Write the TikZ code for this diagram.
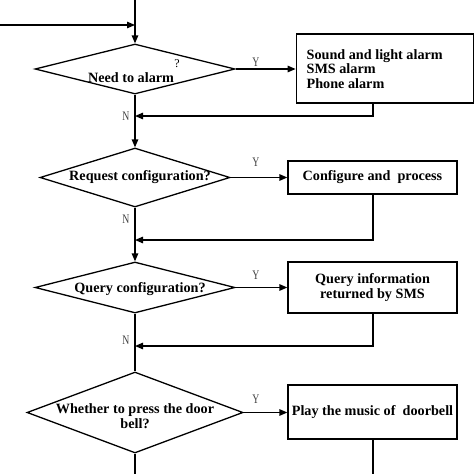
\documentclass[tikz,border=0pt]{standalone}
\usepackage{fontspec}
\setmainfont{Liberation Serif}
\usetikzlibrary{shapes.geometric,arrows.meta}
\begin{document}
\begin{tikzpicture}[x=1pt,y=-1pt,
  line width=1.3pt,
  arr/.style={-{Triangle[length=8pt,width=6.5pt]}},
  dia/.style={draw,diamond,aspect=1,inner sep=0pt},
  box/.style={draw,rectangle,inner sep=0pt},
  txt/.style={font=\fontsize{14.2}{14.5}\selectfont\bfseries,inner sep=0pt},
  yn/.style={font=\fontsize{13}{13}\selectfont,inner sep=0pt,xscale=0.75,text=black!75}]
\useasboundingbox (0,0) rectangle (474,474);
% decisions
\node[dia,minimum width=200pt,minimum height=50pt] (d1) at (135,69) {};
\node[dia,minimum width=190pt,minimum height=59pt] (d2) at (135,177.5) {};
\node[dia,minimum width=200pt,minimum height=51pt] (d3) at (135,287.5) {};
\node[dia,minimum width=216pt,minimum height=81pt] (d4) at (135,412.5) {};
\node[txt] (t1) at (131,78) {Need to alarm};
\node[txt] (q1) at (177,64) {\fontsize{12}{12}\selectfont\mdseries ?};
\node[txt] (t2) at (140,177) {Request configuration?};
\node[txt] (t3) at (140,289) {Query configuration?};
\node[txt,align=center] (t4) at (135,416) {Whether to press the door\\bell?};
% processes
\node[box,minimum width=177.5pt,minimum height=69pt] (b1) at (385,68.5) {};
\node[txt,align=left] (bt1) at (306,69) [anchor=west] {Sound and light alarm\\SMS alarm\\Phone alarm};
\node[box,minimum width=169pt,minimum height=33pt] (b2) at (372.5,177.5) {};
\node[txt] (bt2) at (b2) {Configure and\ \ process};
\node[box,minimum width=169pt,minimum height=51pt] (b3) at (372.5,287.5) {};
\node[txt,align=center] (bt3) at (b3) {Query information\\returned by SMS};
\node[box,minimum width=169pt,minimum height=54pt] (b4) at (372.5,412) {};
\node[txt] (bt4) at (b4) {Play the music of\ \ doorbell};
% coordinates
\coordinate (top) at (135,0);
\coordinate (lft) at (0,25);
\coordinate (j0) at (135,25);
\coordinate (o1) at (373,103);
\coordinate (k1) at (373,116);
\coordinate (j1) at (135,116);
\coordinate (o2) at (373,194);
\coordinate (k2) at (373,240);
\coordinate (j2) at (135,240);
\coordinate (o3) at (373,313);
\coordinate (k3) at (373,346);
\coordinate (j3) at (135,346);
\coordinate (e1) at (135,474);
\coordinate (o4) at (373,439);
\coordinate (e2) at (373,474);
% connectors
\draw[arr] (top) -- (d1.north);
\draw[arr] (lft) -- (j0);
\draw[arr] (d1.east) -- (d1.east -| b1.west);
\draw[arr] (o1) -- (k1) -- (j1);
\draw[arr] (d1.south) -- (d2.north);
\draw[arr] (d2.east) -- (d2.east -| b2.west);
\draw[arr] (o2) -- (k2) -- (j2);
\draw[arr] (d2.south) -- (d3.north);
\draw[arr] (d3.east) -- (d3.east -| b3.west);
\draw[arr] (o3) -- (k3) -- (j3);
\draw (d3.south) -- (d4.north);
\draw[arr] (d4.east) -- (d4.east -| b4.west);
\draw (d4.south) -- (e1);
\draw (o4) -- (e2);
% labels
\node[yn] (y1) at (256,62) {Y};
\node[yn] (y2) at (256,162) {Y};
\node[yn] (y3) at (256,275) {Y};
\node[yn] (y4) at (256,399) {Y};
\node[yn] (n1) at (126,116) {N};
\node[yn] (n2) at (126,219) {N};
\node[yn] (n3) at (126,340) {N};
\end{tikzpicture}
\end{document}
